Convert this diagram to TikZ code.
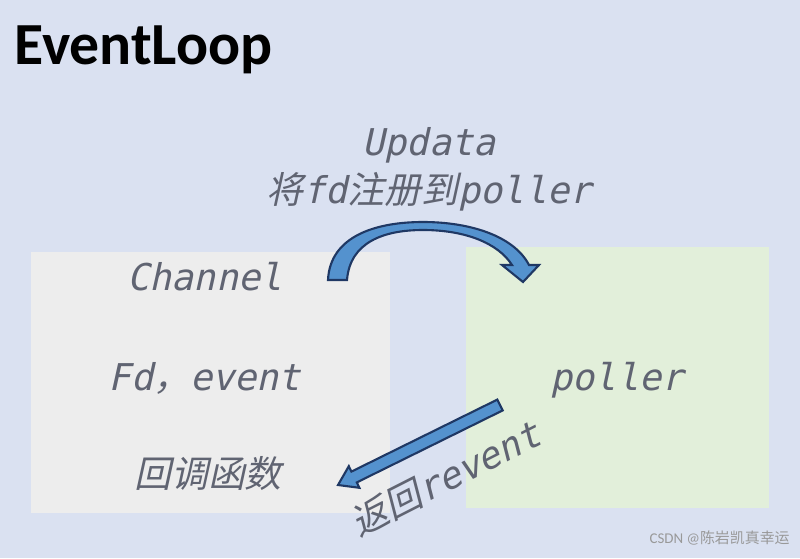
\documentclass[tikz,border=0pt]{standalone}
\usepackage{fontspec}
\usepackage{tikz}
\setmainfont{Carlito}
\newfontfamily\monoit{DejaVu Sans Mono}[FakeSlant=0.22]
\newfontfamily\cjkit{Noto Sans CJK SC}[FakeSlant=0.22]
\newfontfamily\cjkup{Noto Sans CJK SC}
\newcommand{\zh}[1]{{\cjkit #1}}
\definecolor{bgblue}{RGB}{218,225,241}
\definecolor{boxgray}{RGB}{237,237,237}
\definecolor{boxgreen}{RGB}{226,239,218}
\definecolor{txtgray}{RGB}{96,100,114}
\definecolor{arrfill}{RGB}{84,146,206}
\definecolor{arrline}{RGB}{31,56,100}

\begin{document}
\begin{tikzpicture}[x=0.02cm,y=-0.02cm,
    lbl/.style={anchor=base,inner sep=0pt,text=txtgray,font=\monoit\fontsize{21}{24}\selectfont},
    blockarrow/.style={fill=arrfill,draw=arrline,line width=1.2pt,line join=miter}]
    % background and the two boxes
    \fill [bgblue] (0,0) rectangle (800,558);
    \useasboundingbox (0,0) rectangle (800,558);
    \fill [boxgray] (31,252) rectangle (390,513);
    \fill [boxgreen] (466,247) rectangle (769,508);
    % title
    \node [anchor=base west,inner sep=0pt,font=\bfseries\fontsize{34}{38}\selectfont] (title) at (14,64) {EventLoop};
    % labels
    \node [lbl] (updata) at (429,155) {Updata};
    \node [lbl] (reg) at (429,203) {\zh{将}fd\zh{注册到}poller};
    \node [lbl] (channel) at (205,290) {Channel};
    \node [lbl] (fdev) at (205,390) {Fd\zh{，}event};
    \node [lbl] (cb) at (208,487) {\zh{回调函数}};
    \node [lbl] (poller) at (617,390) {poller};
    \node [lbl,rotate=27] (revent) at (452,490) {\zh{返回}revent};
    % curved arrow: Channel -> poller
    \coordinate (ctail) at (337,280);
    \coordinate (ctip) at (523,282);
    \draw [blockarrow] (328,280) .. controls (330,236) and (376,222) .. (423,222)
        .. controls (470,222) and (514,236) .. (529,265) -- (539,265) -- (ctip) -- (502,265) -- (512,265)
        .. controls (498,243) and (465,230) .. (423,230)
        .. controls (384,230) and (350,242) .. (347,280) -- cycle;
    % straight arrow: poller -> callback
    \coordinate (stail) at (500,405);
    \coordinate (stip) at (338,485);
    \draw [blockarrow] (497.3,399.6) -- (502.7,410.4) -- (356.8,482.4) -- (359.4,487.8) -- (stip)
        -- (348.8,466.2) -- (351.4,471.6) -- cycle;
    % watermark
    \node [anchor=base east,inner sep=0pt,text=gray!80,font=\fontsize{8.5}{10}\selectfont] (mark) at (790,543) {CSDN @{\cjkup 陈岩凯真幸运}};
\end{tikzpicture}
\end{document}
